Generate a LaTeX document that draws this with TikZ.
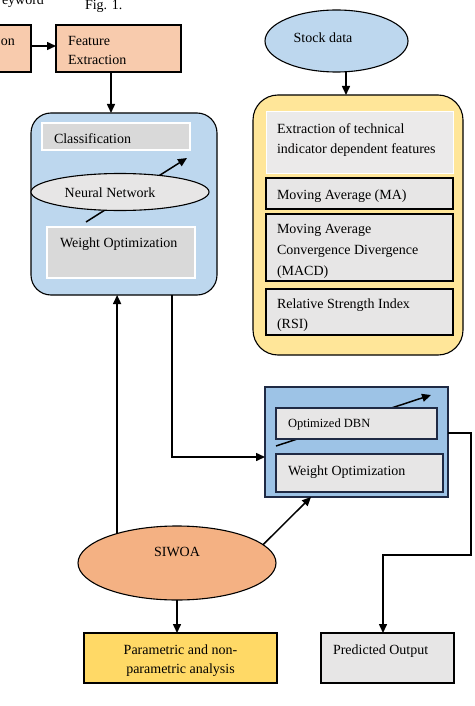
\documentclass[tikz,border=0pt]{standalone}
\usepackage{fontspec}
\setmainfont{Liberation Serif}
\usetikzlibrary{arrows.meta,shapes.geometric,calc}
\definecolor{peach}{HTML}{F8CBAD}
\definecolor{lblue}{HTML}{BDD7EE}
\definecolor{mblue}{HTML}{9DC3E6}
\definecolor{lgray}{HTML}{D9D9D9}
\definecolor{pgray}{HTML}{E7E6E6}
\definecolor{lyellow}{HTML}{FFE699}
\definecolor{gold}{HTML}{FFD966}
\definecolor{salmon}{HTML}{F4B183}
\definecolor{navy}{HTML}{1F2A44}
\tikzset{
  box/.style={draw=black,line width=1.1pt,inner sep=0pt,outer sep=0pt},
  ell/.style={ellipse,draw=black,line width=1.1pt,inner sep=0pt,outer sep=0pt},
  txt/.style={inner sep=0pt,outer sep=0pt,font=\fontsize{14}{19}\selectfont},
  arr/.style={line width=1.5pt,-{Triangle[length=9pt,width=8pt]}},
  ln/.style={line width=1.5pt},
}
\begin{document}
\begin{tikzpicture}[x=1pt,y=-1pt]
\useasboundingbox (0,0) rectangle (474,706);
% top cropped texts
\node[txt,anchor=base west] (kw) at (2,5) {eyword};
\node[txt,anchor=base west] (fig) at (85,10) {Fig. 1.};
% top boxes
\node[box,fill=peach,minimum width=45,minimum height=47] (onbox) at (8.5,48.5) {};
\node[txt,anchor=base east] (ontxt) at (15,46) {on};
\node[box,fill=peach,minimum width=125,minimum height=47] (feat) at (118.5,48.5) {};
\node[txt,anchor=base west,align=left] (feattxt) at (68,65) {Feature\\Extraction};
\draw[arr] ([yshift=2.5pt]onbox.east) -- ([yshift=2.5pt]feat.west);
% neural network box
\node[box,rounded corners=20pt,fill=lblue,minimum width=186,minimum height=182] (nnbox) at (124,204) {};
\node[draw=white,line width=1.5pt,fill=lgray,minimum width=148,minimum height=27,inner sep=0pt] (cls) at (116,136.5) {};
\node[txt,anchor=base west] (clstxt) at (54,143) {Classification};
\node[draw=white,line width=1.5pt,fill=lgray,minimum width=148,minimum height=51,inner sep=0pt] (wopt) at (121,252.5) {};
\node[txt,anchor=base west] (wopttxt) at (60,247) {Weight Optimization};
\coordinate (nna) at (86,222);
\coordinate (nnb) at (187,158);
\draw[arr] (nna) -- (nnb);
\node[ell,fill=pgray,minimum width=178,minimum height=37] (nn) at (120,192) {};
\node[txt,anchor=base] (nntxt) at (110,197) {Neural Network};
\draw[arr] ([xshift=-7.5pt]feat.south) -- ([xshift=-7.5pt]feat.south |- nnbox.north);
% stock data
\node[ell,fill=lblue,minimum width=143,minimum height=62] (stock) at (336.5,41) {};
\node[txt,anchor=base] (stocktxt) at (323,43) {Stock data};
\node[box,rounded corners=25pt,fill=lyellow,minimum width=210,minimum height=260] (ybox) at (358,225) {};
\draw[arr] ([xshift=9.5pt]stock.south) -- ([xshift=9.5pt]stock.south |- ybox.north);
\node[draw=white,line width=1pt,fill=pgray!85!white,minimum width=187,minimum height=61,inner sep=0pt] (ext) at (359.5,142.5) {};
\node[txt,anchor=base west,align=left,font=\fontsize{14}{20}\selectfont] (exttxt) at (277,153) {Extraction of technical\\indicator dependent features};
\node[box,fill=pgray,minimum width=187,minimum height=31] (ma) at (359.5,193.5) {};
\node[txt,anchor=base west] (matxt) at (277,199) {Moving Average (MA)};
\node[box,fill=pgray,minimum width=187,minimum height=67] (macd) at (359.5,247.5) {};
\node[txt,anchor=base west,align=left,font=\fontsize{14}{21}\selectfont] (macdtxt) at (277,275) {Moving Average\\Convergence Divergence\\(MACD)};
\node[box,fill=pgray,minimum width=187,minimum height=46] (rsi) at (359.5,312) {};
\node[txt,anchor=base west,align=left,font=\fontsize{14}{20}\selectfont] (rsitxt) at (277,328) {Relative Strength Index\\(RSI)};
% DBN box
\node[draw=navy,line width=1.2pt,fill=mblue,minimum width=183,minimum height=110,inner sep=0pt,outer sep=0pt] (dbn) at (356.5,442) {};
\coordinate (dba) at (276,446);
\coordinate (dbb) at (431,395);
\draw[arr] (dba) -- (dbb);
\node[draw=navy,line width=1.2pt,fill=pgray,minimum width=161,minimum height=31,inner sep=0pt,outer sep=0pt] (odbn) at (356.5,423.5) {};
\node[txt,anchor=base west,font=\fontsize{12.5}{15}\selectfont] (odbntxt) at (288,427) {Optimized DBN};
\node[draw=navy,line width=1.2pt,fill=pgray,minimum width=167,minimum height=38,inner sep=0pt,outer sep=0pt] (dwopt) at (359.5,473) {};
\node[txt,anchor=base west] (dwopttxt) at (288,475) {Weight Optimization};
% SIWOA
\node[ell,fill=salmon,minimum width=198,minimum height=74] (siwoa) at (177,563) {};
\node[txt,anchor=base] (siwoatxt) at (177,556) {SIWOA};
% bottom boxes
\node[box,fill=gold,minimum width=193,minimum height=50] (param) at (180.5,658) {};
\node[txt,anchor=base,align=center] (paramtxt) at (180.5,673) {Parametric and non-\\parametric analysis};
\node[box,fill=pgray,minimum width=133,minimum height=50] (pred) at (387.5,658) {};
\node[txt,anchor=base west] (predtxt) at (333,654) {Predicted Output};
% connectors
\coordinate (upx) at (117.1,300);
\draw[arr] (siwoa.154 -| upx) -- (upx |- nnbox.south);
\draw[arr] ([xshift=48pt]nnbox.south) |- ([yshift=-15pt]dbn.west);
\draw[arr] (siwoa.12) -- ([xshift=-45.5pt]dbn.south);
\draw[arr] (siwoa.south) -- (siwoa.south |- param.north);
\coordinate (r1) at (471,433);
\coordinate (r2) at (471,555);
\coordinate (r3) at (383,555);
\draw[ln,-{Triangle[length=9pt,width=8pt]}] ([yshift=9pt]dbn.east) -- (r1) -- (r2) -- (r3) -- (r3 |- pred.north);
\end{tikzpicture}
\end{document}
